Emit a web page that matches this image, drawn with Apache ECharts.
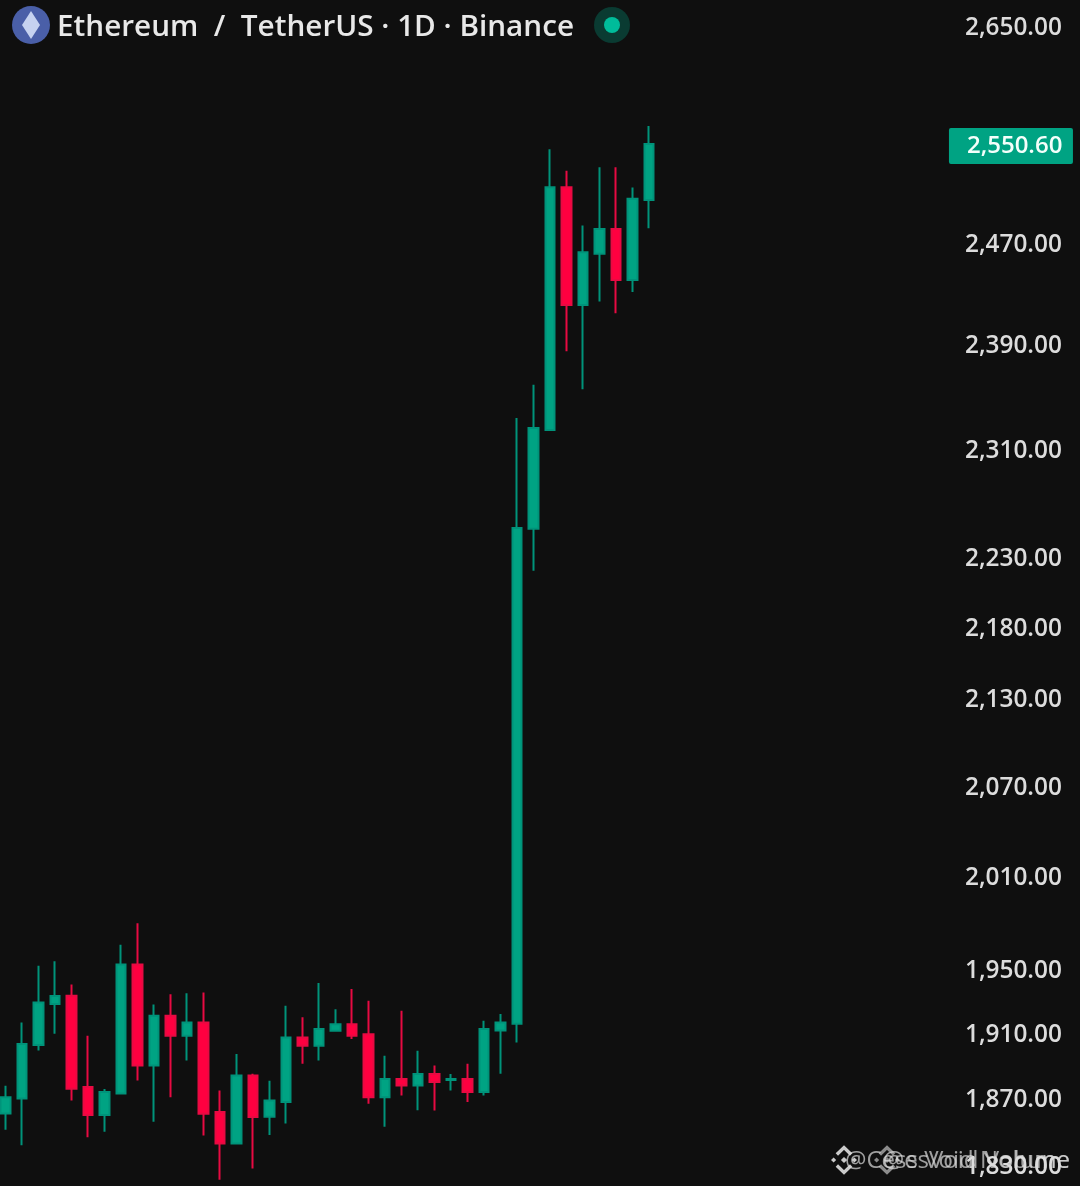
<!DOCTYPE html>
<html><head><meta charset="utf-8">
<style>html,body{margin:0;padding:0;background:#0f0f0f}#c{width:1080px;height:1186px}</style>
<script src="https://cdn.jsdelivr.net/npm/echarts@6/dist/echarts.min.js"></script>
</head><body><div id="c"></div>
<script>
const titleText = 'Ethereum  /  TetherUS · 1D · Binance';
const tickValues = [2650,2470,2390,2310,2230,2180,2130,2070,2010,1950,1910,1870,1830];
const lastPrice = 2550.6;
const opens  = [1860.8,1869.9,1902.7,1928.2,1933.4,1876.8,1859.8,1872.9,1953.2,1890,1920.8,1908.4,1916.7,1861.6,1842.7,1883.9,1858.8,1867.7,1907.4,1902.2,1911.5,1915.6,1909.4,1870.7,1881.7,1877.8,1884.8,1881.1,1881.7,1873.8,1911.7,1915.9,2250.5,2324.1,2515,2420.5,2461.2,2481.1,2440.3,2504.6];
const closes = [1870.7,1903.3,1929.2,1933.2,1875.8,1859.8,1873.8,1953.2,1890,1920.8,1908.4,1916.7,1860.6,1842.7,1883.9,1858.6,1868.7,1907.4,1902.2,1912.6,1915.6,1908.4,1870.7,1881.7,1877.8,1884.8,1879.9,1881.7,1873.8,1912.6,1916.7,2251.2,2325.6,2515,2420.5,2462.4,2481.1,2440.3,2505.5,2550.6];
const lows   = [1851,1841.7,1899.3,1909.6,1868.7,1846.5,1849.7,1872.9,1880.9,1855.8,1870.7,1893.1,1847.5,1821.1,1842.7,1827.8,1847.8,1854.7,1891.1,1893.1,1911.5,1906.4,1866.7,1852.8,1871.7,1862.8,1862.6,1874.7,1867.7,1871.7,1885,1904.2,2220,2324.1,2384.4,2355.1,2423.2,2414,2430.8,2481.7];
const highs  = [1877.6,1916.7,1952.3,1955.3,1940.5,1908.4,1875.6,1965.8,1979.6,1927.9,1934.4,1935,1935.4,1874.7,1897.1,1885,1880.7,1927.1,1920,1941.5,1925,1937.6,1930.2,1896,1924,1899.1,1890,1884.8,1891.1,1917.7,1921.9,2333.2,2358.4,2546.3,2528.6,2483.8,2531.4,2531.4,2514.7,2565.6];
const axisMin = 1817.4, axisMax = 2672.9;
const categories = opens.map((_, i) => 'D' + (i + 1));
const ohlc = opens.map((o, i) => [o, closes[i], lows[i], highs[i]]);
const fmt = v => v.toLocaleString('en-US', {minimumFractionDigits: 2, maximumFractionDigits: 2});
const UP = '#00a383', DOWN = '#ff0040', INK = '#dcdcdc', FONT = '"Open Sans", sans-serif';

function binanceLogo(cx, cy, s, op) {
  const d = (x, y, r) => ({type:'polygon', shape:{points:[[cx+x-r,cy+y],[cx+x,cy+y-r],[cx+x+r,cy+y],[cx+x,cy+y+r]]}, style:{fill:'#e0e0e0', opacity:op}, z:20});
  const chev = (sy) => ({type:'polyline', shape:{points:[[cx-s*.55,cy+sy*s*.42],[cx,cy+sy*s*.95],[cx+s*.55,cy+sy*s*.42]]}, style:{stroke:'#e0e0e0', lineWidth:3.4, fill:null, opacity:op}, z:20});
  return [d(0,0,s*.24), d(-s*.8,0,s*.2), d(s*.8,0,s*.2), chev(-1), chev(1)];
}

const chart = echarts.init(document.getElementById('c'), null, {renderer:'canvas'});
chart.setOption({
  animation:false,
  backgroundColor:'#0f0f0f',
  title:{text:titleText, left:52, top:8, textStyle:{color:'#e8e8e8', fontFamily:FONT, fontWeight:600, fontSize:29.7}},
  grid:{left:-2.75, top:0, width:57*16.5, height:1186, outerBoundsMode:'none'},
  xAxis:{type:'category', data:categories, min:0, max:56, boundaryGap:true, show:false},
  yAxis:[
    {type:'log', logBase:10, min:axisMin, max:axisMax, position:'right',
     axisLine:{show:false}, axisTick:{show:false}, splitLine:{show:false},
     axisLabel:{show:true, customValues:tickValues, margin:27.2, formatter:v=>'{t|'+fmt(v)+'}', hideOverlap:false, showMinLabel:true, showMaxLabel:true,
       rich:{t:{color:INK, fontFamily:FONT, fontWeight:600, fontSize:24.4, padding:[4,0,0,0]}}}},
    {type:'log', logBase:10, min:axisMin, max:axisMax, position:'right',
     axisLine:{show:false}, axisTick:{show:false}, splitLine:{show:false},
     axisLabel:{show:true, customValues:[lastPrice], margin:11.2, padding:[4,0,0,0], formatter:v=>'{tag|'+fmt(v)+'}',
       rich:{tag:{backgroundColor:UP, color:'#f4fffb', fontFamily:FONT, fontWeight:600, fontSize:24, width:106, height:36, lineHeight:36, padding:[0,0,0,18], borderRadius:2}}}}
  ],
  series:[{type:'candlestick', data:ohlc, yAxisIndex:0, barWidth:10, clip:false,
    itemStyle:{color:UP, color0:DOWN, borderColor:'#00937a', borderColor0:'#e80a42', borderWidth:2}}],
  graphic:[
    {type:'circle', shape:{cx:31,cy:25,r:19}, style:{fill:'#4a5fa8'}, z:20},
    {type:'polygon', shape:{points:[[31,11],[40,25],[31,39],[22,25]]}, style:{fill:'#c6d2f0'}, z:21},
    {type:'circle', shape:{cx:612,cy:25,r:18}, style:{fill:'#0a3b32'}, z:20},
    {type:'circle', shape:{cx:612,cy:25,r:8}, style:{fill:'#00bc9a'}, z:21},
    ...binanceLogo(844,1160,13,.9),
    ...binanceLogo(887,1160,13,.6),
    {type:'text', x:1070, y:1149, style:{text:'@Cess Void Nobune', textAlign:'right', fill:'#dddddd', opacity:.7, fontFamily:FONT, fontSize:24}, z:22},
    {type:'text', x:1070, y:1149, style:{text:'@esVoid Volume', textAlign:'right', fill:'#dddddd', opacity:.7, fontFamily:FONT, fontSize:24}, z:22}
  ]
});
</script></body></html>
